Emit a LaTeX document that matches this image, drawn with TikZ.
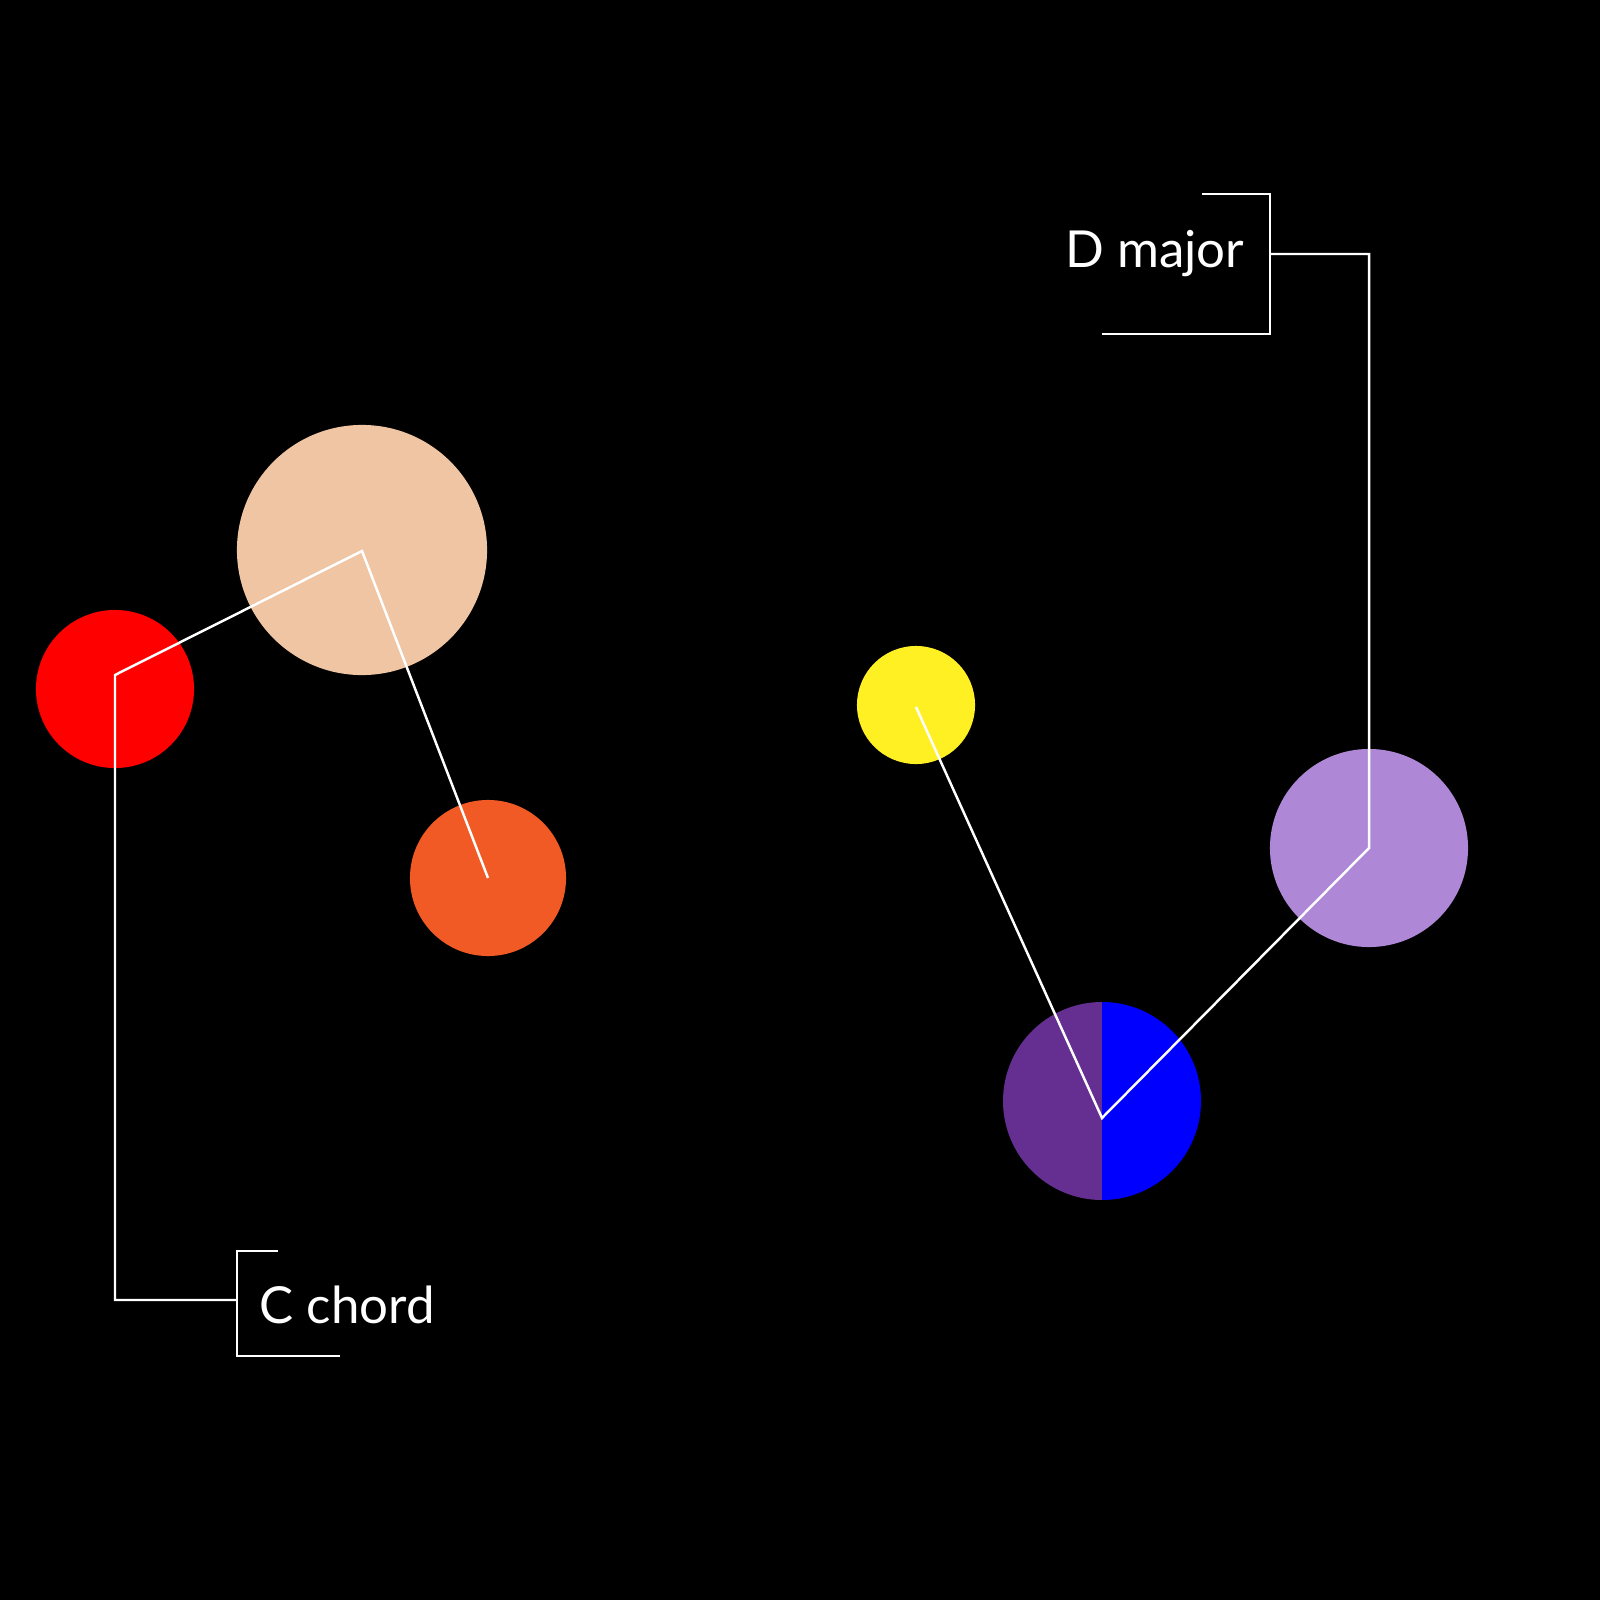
\documentclass[tikz,border=0pt]{standalone}
\usepackage{fontspec}
\setmainfont{Lato}
\definecolor{peach}{HTML}{EFC5A3}
\definecolor{orng}{HTML}{F15A24}
\definecolor{yel}{HTML}{FFF024}
\definecolor{lav}{HTML}{AE88D6}
\definecolor{purp}{HTML}{642F91}
\definecolor{blu}{HTML}{0000FF}
\begin{document}
\begin{tikzpicture}[x=0.01cm,y=-0.01cm,
  dot/.style={circle,inner sep=0pt,draw=none},
  wire/.style={white,line width=0.7pt},
  lbl/.style={white,font=\fontsize{14.5}{17}\selectfont,inner sep=0pt}]
\fill[black] (0,0) rectangle (1600,1600);
\useasboundingbox (0,0) rectangle (1600,1600);
\node[dot,fill=peach,minimum size=2.5cm] (peach) at (362,550) {};
\node[dot,fill=red,minimum size=1.58cm] (red) at (115,689) {};
\node[dot,fill=orng,minimum size=1.56cm] (orange) at (488,878) {};
\node[dot,fill=yel,minimum size=1.18cm] (yellow) at (916,705) {};
\node[dot,fill=lav,minimum size=1.98cm] (lav) at (1369,848) {};
\fill[purp] (1102,1002) arc[start angle=-90,end angle=-270,radius=99] -- cycle;
\fill[blu] (1102,1002) arc[start angle=-90,end angle=90,radius=99] -- cycle;
\node[dot,minimum size=1.98cm] (split) at (1102,1101) {};
\coordinate (r1) at (115,675);
\coordinate (p1) at (362,551);
\coordinate (o1) at (488,878);
\coordinate (c1) at (115,1300);
\coordinate (c2) at (236,1300);
\draw[wire] (o1) -- (p1) -- (r1) -- (c1) -- (c2);
\draw[wire] (278,1251) -- (237,1251) -- (237,1356) -- (340,1356);
\node[lbl,anchor=west] (cchord) at (259,1305) {C chord};
\coordinate (y1) at (916,707);
\coordinate (s1) at (1102,1118);
\coordinate (l1) at (1369,848);
\coordinate (d1) at (1369,254);
\coordinate (d2) at (1270,254);
\draw[wire] (y1) -- (s1) -- (l1) -- (d1) -- (d2);
\draw[wire] (1202,194) -- (1270,194) -- (1270,334) -- (1102,334);
\node[lbl,anchor=east] (dmaj) at (1245,254) {D major};
\end{tikzpicture}
\end{document}
